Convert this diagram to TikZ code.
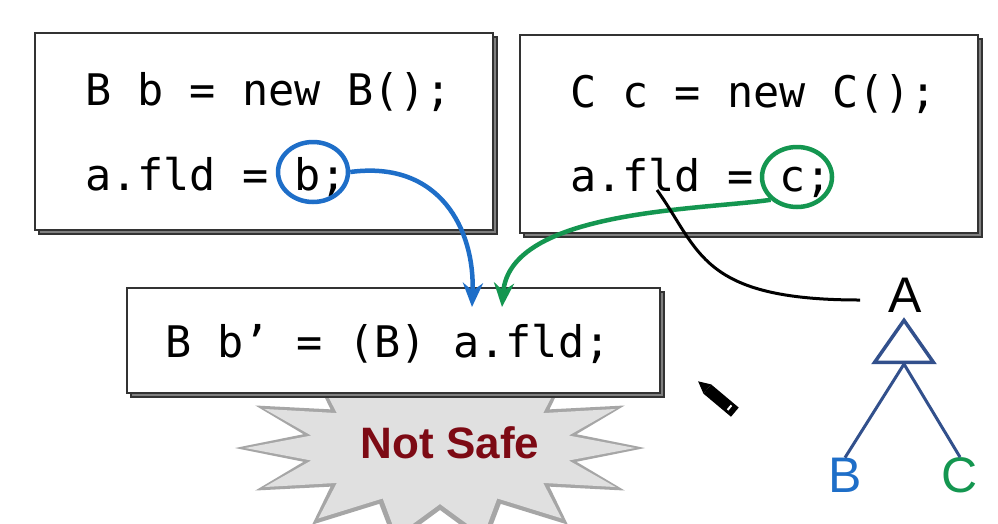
\documentclass[tikz,border=0pt]{standalone}
\usepackage{fontspec}
\setmainfont{Liberation Sans}
\newfontfamily\codefont{DejaVu Sans Mono}
\usetikzlibrary{arrows.meta,shapes.geometric}
\definecolor{cblue}{RGB}{30,110,200}
\definecolor{cgreen}{RGB}{20,150,80}
\definecolor{navy}{RGB}{50,80,140}
\definecolor{dred}{RGB}{125,10,20}
\tikzset{
  codebox/.style={draw=black!80,line width=1.8pt,fill=white},
  code/.style={font=\codefont\fontsize{43.5}{43.5}\selectfont,anchor=base west,inner sep=0pt},
  ring/.style={draw,ellipse,line width=4.5pt,minimum width=#1,minimum height=60pt},
  flow/.style={line width=4.5pt,-{Stealth[length=24pt,width=20pt]}},
  tree/.style={font=\fontsize{50}{50}\selectfont,inner sep=0pt}
}
\begin{document}
\begin{tikzpicture}[x=1pt,y=-1pt]
\useasboundingbox (0,0) rectangle (998,523);
\fill[white] (0,0) rectangle (998,523);
% starburst
\fill[black!35] plot[samples at={0,...,27},variable=\i] ({440+(172.5+32.5*cos(\i*180))*cos(\i*360/28)},{448+(80+18*cos(\i*180))*sin(\i*360/28)}) -- cycle;
\fill[black!12] plot[samples at={0,...,27},variable=\i] ({440+(163.5+31.5*cos(\i*180))*cos(\i*360/28)},{448+(73+17*cos(\i*180))*sin(\i*360/28)}) -- cycle;
\node[font=\bfseries\fontsize{44}{44}\selectfont,text=dred] (ns) at (450,443) {Not Safe};
% boxes
\draw[codebox,fill=black!50] (39,37) rectangle (497,234);
\draw[codebox] (35,33) rectangle (493,230);
\draw[codebox,fill=black!50] (524,39) rectangle (982,237);
\draw[codebox] (520,35) rectangle (978,233);
\draw[codebox,fill=black!50] (131,292) rectangle (664,397);
\draw[codebox] (127,288) rectangle (660,393);
\node[code] (l1) at (85,105) {B b = new B();};
\node[code] (l2) at (85,190) {a.fld = b;};
\node[code] (r1) at (570,107) {C c = new C();};
\node[code] (r2) at (570,191) {a.fld = c;};
\node[code] (m1) at (165,357) {B b’ = (B) a.fld;};
% rings
\node[ring=70pt,draw=cblue] (rb) at (313,172) {};
\node[ring=70pt,draw=cgreen] (rc) at (797,177) {};
\coordinate (tb) at (472,307);
\coordinate (tc) at (502,307);
\draw[flow,cblue] (rb.east) .. controls (440,160) and (475,230) .. (tb);
\draw[flow,cgreen] (rc.south west) .. controls (700,210) and (510,210) .. (tc);
% tree
\node[tree] (A) at (905,295) {A};
\node[tree,text=cblue] (B) at (845,475) {B};
\node[tree,text=cgreen] (C) at (960,475) {C};
\node[draw=navy,line width=3.5pt,isosceles triangle,shape border rotate=90,isosceles triangle apex angle=70,minimum height=42pt,inner sep=0pt] (tri) at (904,347) {};
\draw[navy,line width=3pt] (tri.south) -- (B.north);
\draw[navy,line width=3pt] (tri.south) -- (C.north);
\coordinate (fl) at (657,190);
\draw[black,line width=3pt] (fl) .. controls (700,250) and (700,300) .. (860,300);
% pencil
\begin{scope}[shift={(718,398)},rotate=140]
\fill[black] (-22,-6) rectangle (14,6);
\fill[black] (14,-6) -- (26,0) -- (14,6) -- cycle;
\fill[white] (-16,-3) rectangle (-14,3);
\end{scope}
\end{tikzpicture}
\end{document}
